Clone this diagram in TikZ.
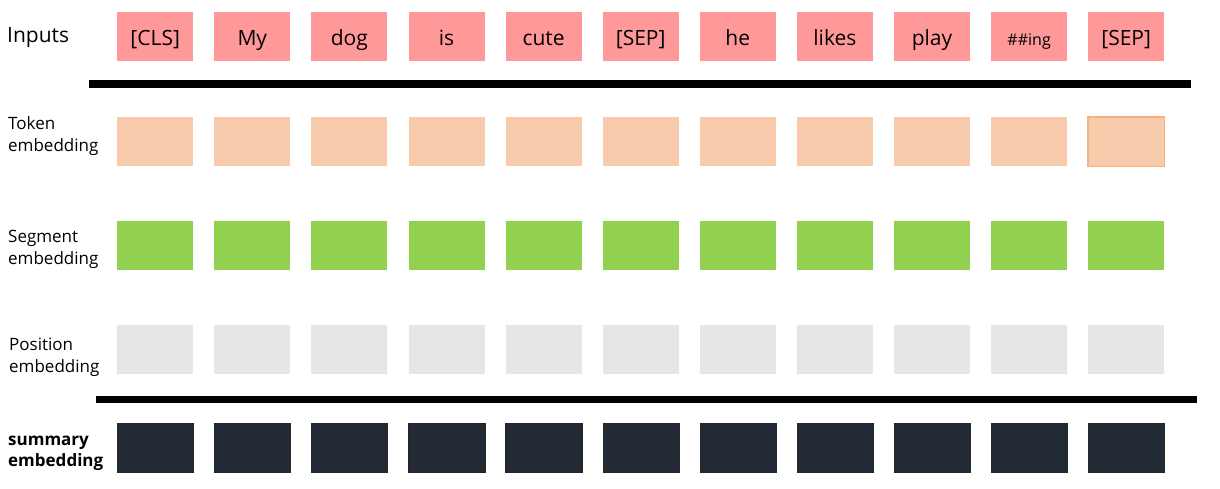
\documentclass[tikz,border=0pt]{standalone}
\usepackage{fontspec}
\setmainfont{Open Sans}
\usepackage{xcolor}
\usetikzlibrary{positioning}
\definecolor{inputred}{RGB}{255,153,153}
\definecolor{tokenpeach}{RGB}{248,203,173}
\definecolor{peachedge}{RGB}{244,177,131}
\definecolor{segmentgreen}{RGB}{146,208,80}
\definecolor{positiongrey}{RGB}{231,230,230}
\definecolor{summarynavy}{RGB}{34,42,53}

\begin{document}
\begin{tikzpicture}[x=1pt, y=-1pt,
  cell/.style={rectangle, minimum width=76pt, minimum height=49pt, inner sep=0pt, anchor=north west},
  inputcell/.style={cell, fill=inputred, text height=20pt, text depth=2pt},
  tokencell/.style={cell, fill=tokenpeach},
  segmentcell/.style={cell, fill=segmentgreen},
  positioncell/.style={cell, fill=positiongrey},
  summarycell/.style={cell, fill=summarynavy, draw=black!85, line width=1.2pt},
  rowlabel/.style={anchor=west, align=left, inner sep=0pt, font=\fontsize{17}{22}\selectfont}]
  \useasboundingbox (0,0) rectangle (1220,489);

  % row labels
  \node[anchor=base west, inner sep=0pt, font=\fontsize{21}{25}\selectfont] (inputs) at (7,43) {Inputs};
  \node[rowlabel] (token) at (8,136) {Token\\embedding};
  \node[rowlabel] (segment) at (8,249) {Segment\\embedding};
  \node[rowlabel] (position) at (9,357) {Position\\embedding};
  \node[rowlabel, font=\fontsize{17}{21}\selectfont\bfseries] (summary) at (8,453) {summary\\embedding};

  % one column per word
  \foreach \word/\wsize [count=\i from 0] in {{[CLS]}/21, My/21, dog/21, is/21, cute/21, {[SEP]}/21, he/21, likes/21, play/21, {\#\#ing}/16, {[SEP]}/21} {
    \node[inputcell, font=\fontsize{\wsize}{\wsize}\selectfont] (in\i) at (117+97.1*\i,12) {\word};
    \node[tokencell] (tok\i) at (117+97.1*\i,117) {};
    \node[segmentcell] (seg\i) at (117+97.1*\i,221) {};
    \node[positioncell] (pos\i) at (117+97.1*\i,325) {};
    \node[summarycell] (sum\i) at (117+97.1*\i,423) {};
  }
  \draw[peachedge, line width=1.2pt] (tok10.north west) rectangle (tok10.south east);

  % separators
  \draw[line width=8pt] (89,84) -- (1191,84);
  \draw[line width=7pt] (96,399.5) -- (1197,399.5);
\end{tikzpicture}
\end{document}
